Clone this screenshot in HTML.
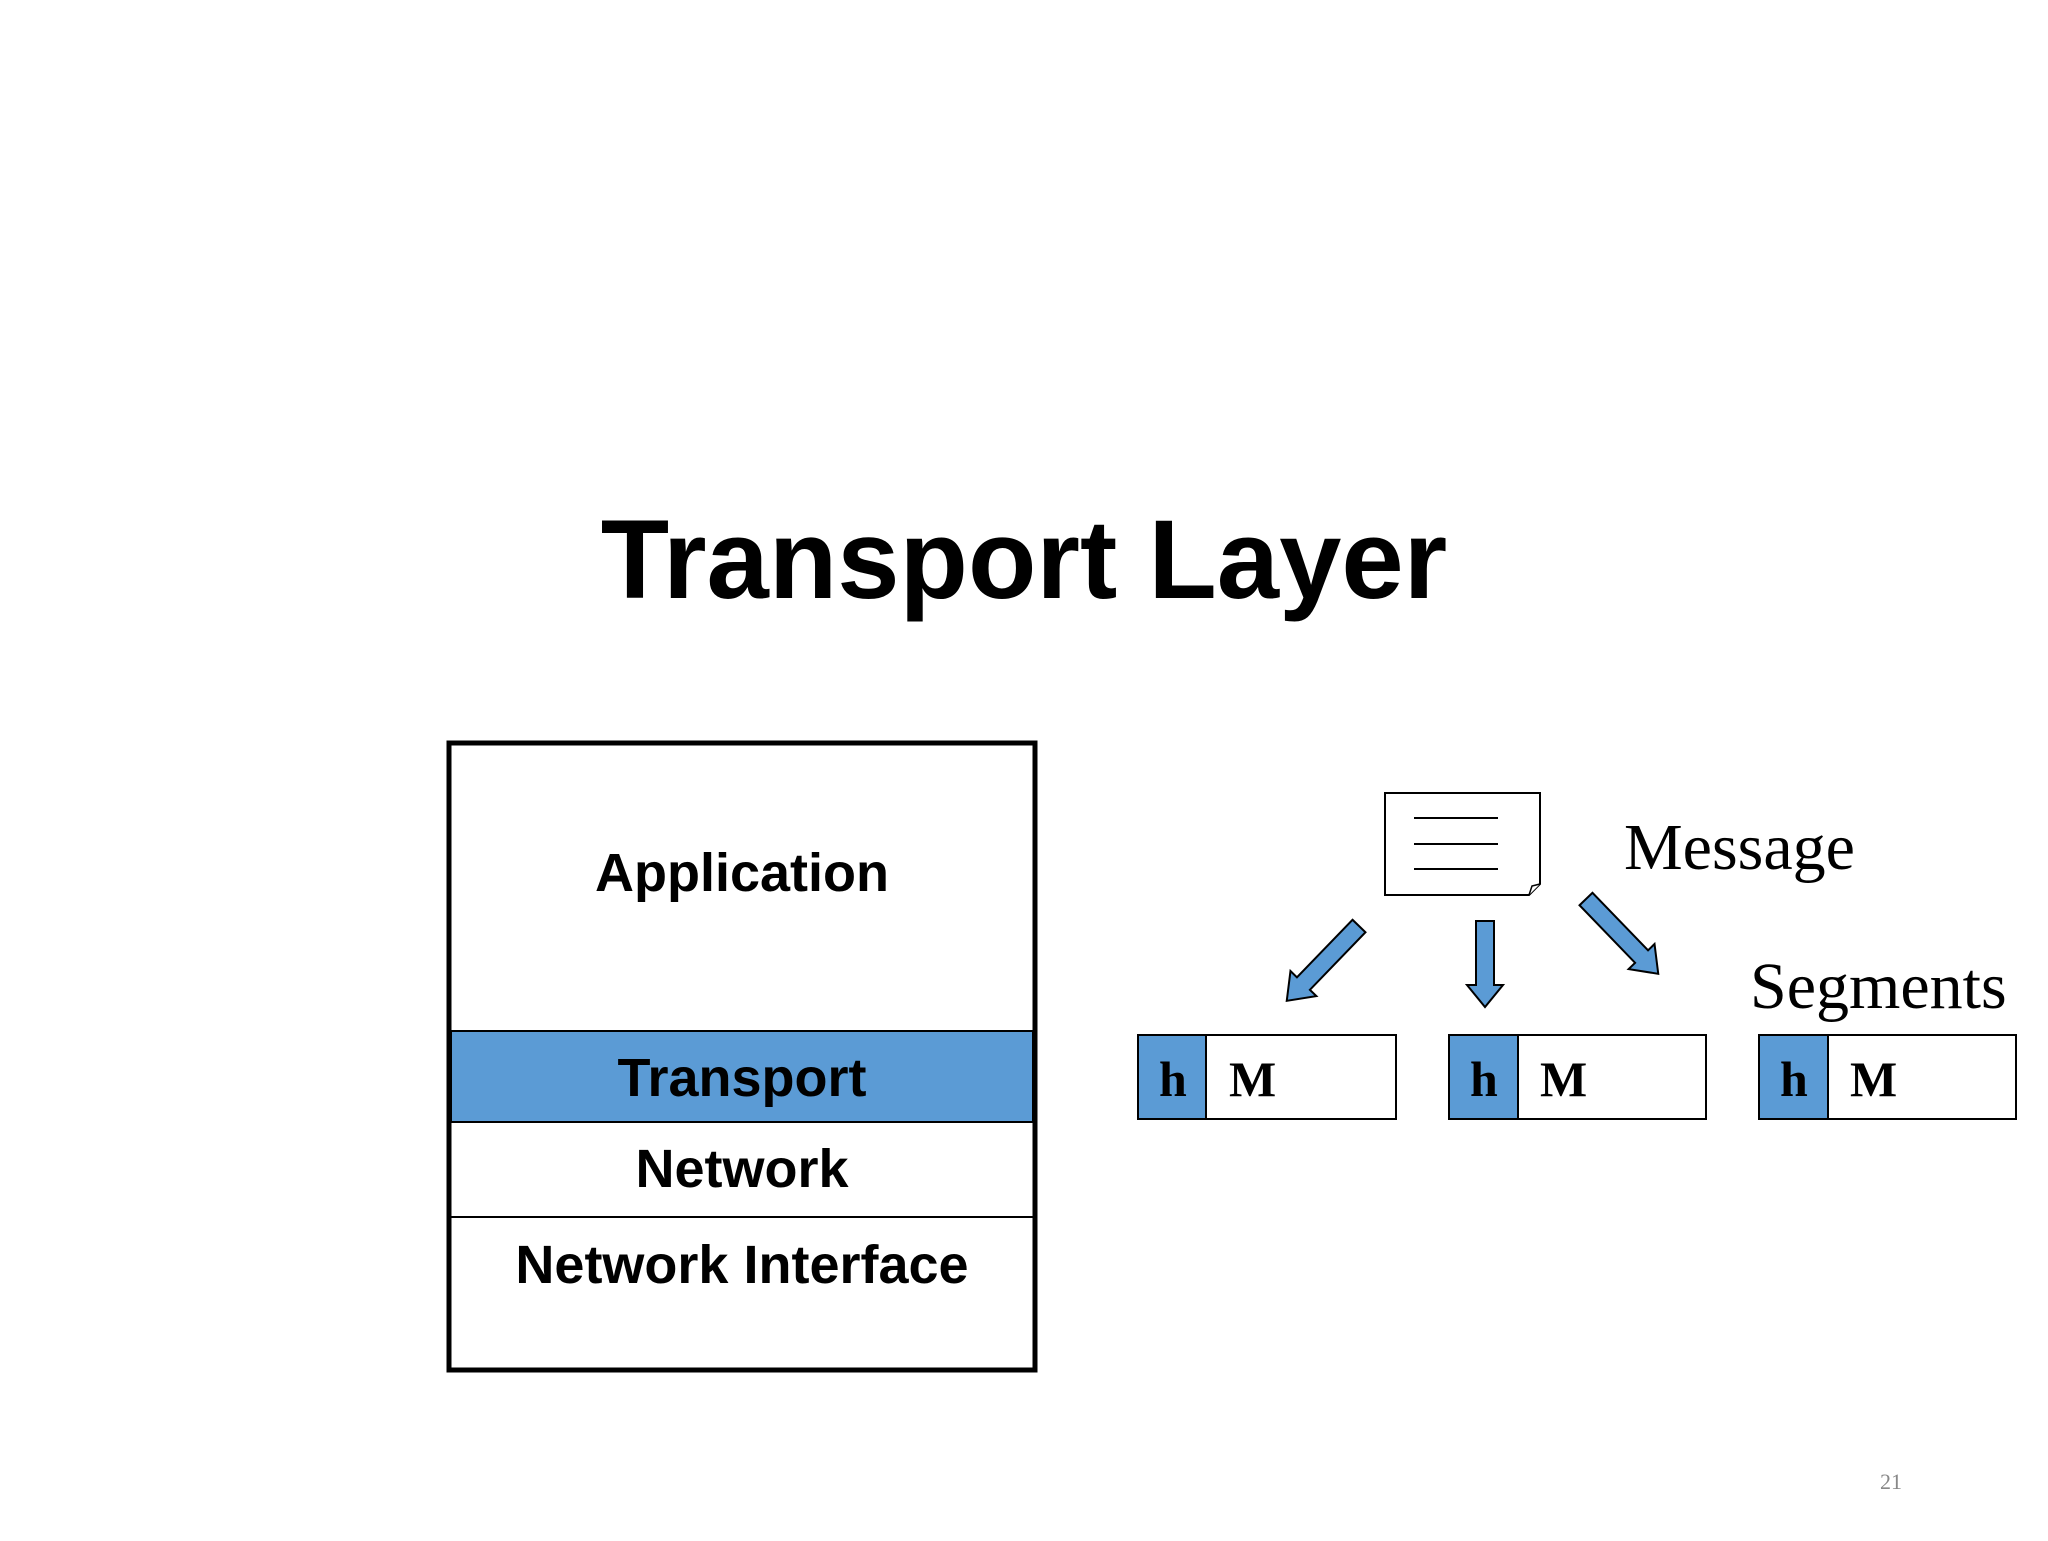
<!DOCTYPE html>
<html><head><meta charset="utf-8"><style>html,body{margin:0;padding:0;background:#fff}</style></head>
<body>
<svg width="2048" height="1536" viewBox="0 0 2048 1536" xmlns="http://www.w3.org/2000/svg">
<defs>
<polygon id="arr" points="-9,0 9,0 9,-64 -9,-64" />
</defs>
<text x="1024" y="598" text-anchor="middle" font-family="Liberation Sans, sans-serif" font-weight="bold" font-size="112">Transport Layer</text>
<!-- stack -->
<rect x="449" y="743" width="586" height="627" fill="#fff" stroke="#000" stroke-width="5"/>
<rect x="451" y="1031" width="582" height="91" fill="#5b9bd5" stroke="#000" stroke-width="2"/>
<line x1="451" y1="1217" x2="1033" y2="1217" stroke="#000" stroke-width="2"/>
<g font-family="Liberation Sans, sans-serif" font-weight="bold" font-size="54" text-anchor="middle">
<text x="742" y="891">Application</text>
<text x="742" y="1096">Transport</text>
<text x="742" y="1187">Network</text>
<text x="742" y="1283">Network Interface</text>
</g>
<!-- document -->
<path d="M1385,793 H1540 V884 L1529,895 H1385 Z" fill="#fff" stroke="#000" stroke-width="2"/>
<path d="M1529,895 L1532,886 L1540,884" fill="#fff" stroke="#000" stroke-width="1.5"/>
<g stroke="#000" stroke-width="2">
<line x1="1414" y1="818" x2="1498" y2="818"/>
<line x1="1414" y1="844" x2="1498" y2="844"/>
<line x1="1414" y1="869" x2="1498" y2="869"/>
</g>
<!-- arrows -->
<g fill="#5b9bd5" stroke="#000" stroke-width="2">
<polygon transform="translate(1485,921)" points="-9,0 9,0 9,64 18,64 0,86 -18,64 -9,64"/>
<polygon transform="translate(1359,926) rotate(44)" points="-9,0 9,0 9,80 18,80 0,104 -18,80 -9,80"/>
<polygon transform="translate(1586,899) rotate(-44)" points="-9,0 9,0 9,80 18,80 0,104 -18,80 -9,80"/>
</g>
<g font-family="Liberation Serif, serif" font-size="66">
<text x="1624" y="869">Message</text>
<text x="1750" y="1008">Segments</text>
</g>
<!-- segments -->
<g stroke="#000" stroke-width="2">
<rect x="1138" y="1035" width="258" height="84" fill="#fff"/>
<rect x="1138" y="1035" width="68" height="84" fill="#5b9bd5"/>
<rect x="1449" y="1035" width="257" height="84" fill="#fff"/>
<rect x="1449" y="1035" width="69" height="84" fill="#5b9bd5"/>
<rect x="1759" y="1035" width="257" height="84" fill="#fff"/>
<rect x="1759" y="1035" width="69" height="84" fill="#5b9bd5"/>
</g>
<g font-family="Liberation Serif, serif" font-weight="bold" font-size="50">
<text x="1159" y="1096">h</text><text x="1229" y="1096">M</text>
<text x="1470" y="1096">h</text><text x="1540" y="1096">M</text>
<text x="1780" y="1096">h</text><text x="1850" y="1096">M</text>
</g>
<text x="1891" y="1489" text-anchor="middle" font-family="Liberation Serif, serif" font-size="22" fill="#888">21</text>
</svg>
</body></html>
